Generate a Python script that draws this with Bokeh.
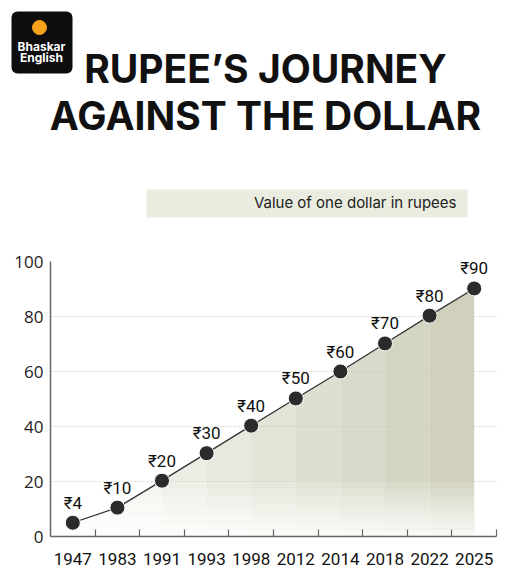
import numpy as np
from bokeh.plotting import figure
from bokeh.layouts import column
from bokeh.models import (Range1d, FixedTicker, LabelSet, ColumnDataSource,
                          BoxAnnotation)
from bokeh.embed import file_html
from bokeh.resources import INLINE
from bokeh.core.properties import value

# ---- data ----
years = ["1947", "1983", "1991", "1993", "1998", "2012", "2014", "2018", "2022", "2025"]
rupees = [5, 10.5, 20.3, 30.3, 40.3, 50.2, 60, 70.2, 80.3, 90.2]
point_labels = ["₹4", "₹10", "₹20", "₹30", "₹40", "₹50", "₹60", "₹70", "₹80", "₹90"]
y_ticks = [0, 20, 40, 60, 80, 100]
title_lines = ["RUPEE’S JOURNEY", "AGAINST THE DOLLAR"]
subtitle = "Value of one dollar in rupees"
brand = ["Bhaskar", "English"]

W, H = 500, 575
HEAD_H = 224
CHART_H = H - HEAD_H
LBL_FONT = "Roboto"

# ---- header (data units == canvas pixels) ----
head = figure(width=W, height=HEAD_H, x_range=Range1d(0, W), y_range=Range1d(HEAD_H, 0),
              output_backend="svg", toolbar_location=None, min_border=0,
              x_axis_location=None, y_axis_location=None, frame_align=False)
head.grid.visible = False
head.outline_line_color = None

head.add_layout(BoxAnnotation(left=11, right=72, top=11, bottom=73, fill_color="#0d0d0d",
                              fill_alpha=1, line_color=None, border_radius=6, level="underlay"))
head.scatter(x=[39], y=[27], size=14, fill_color="#f7a21b", line_color="#f7a21b")
head.text(x=[41, 41], y=[46, 57], text=brand, text_font=value("Inter"), text_font_style="bold",
          text_font_size="12px", text_color="white", text_align="center", text_baseline="middle")
head.text(x=[265, 265], y=[68, 115], text=title_lines, text_font=value("Inter"),
          text_font_style="bold", text_font_size="39px", text_color="#111111",
          text_align="center", text_baseline="middle")
head.add_layout(BoxAnnotation(left=146, right=467, top=189, bottom=217, fill_color="#e9ecdf",
                              fill_alpha=1, line_color=None, level="underlay"))
head.text(x=[456], y=[202], text=[subtitle], text_font=value("Inter"), text_font_size="15px",
          text_color="#222222", text_align="right", text_baseline="middle")

# ---- chart ----
n = len(years)
xs = np.arange(n) + 0.5
src = ColumnDataSource(dict(x=xs, y=rupees, label=point_labels))

p = figure(width=W, height=CHART_H, x_range=Range1d(0, n), y_range=Range1d(0, 100),
           output_backend="svg", toolbar_location=None, frame_align=False,
           min_border_left=50, min_border_right=4, min_border_top=37, min_border_bottom=39)
p.outline_line_color = None
p.xgrid.visible = False
p.ygrid.ticker = FixedTicker(ticks=y_ticks[1:])
p.ygrid.grid_line_color = "#d9d8c6"
p.ygrid.grid_line_dash = "2 2"
p.ygrid.grid_line_width = 1

xa = p.xaxis[0]
xa.ticker = FixedTicker(ticks=list(xs), minor_ticks=[i + 1 for i in range(n)])
xa.major_label_overrides = {float(x): y for x, y in zip(xs, years)}
xa.major_tick_in = 0
xa.major_tick_out = 0
xa.minor_tick_in = 7
xa.minor_tick_out = 0
xa.minor_tick_line_color = "#666666"
xa.minor_tick_line_width = 1.2
xa.axis_line_color = "#666666"
xa.axis_line_width = 1.5
xa.major_label_text_font = LBL_FONT
xa.major_label_text_font_size = "17px"
xa.major_label_text_color = "#111111"
xa.major_label_standoff = 16

ya = p.yaxis[0]
ya.ticker = FixedTicker(ticks=y_ticks, minor_ticks=[])
ya.major_tick_in = 0
ya.major_tick_out = 0
ya.minor_tick_in = 0
ya.minor_tick_out = 0
ya.axis_line_color = "#666666"
ya.axis_line_width = 1.5
ya.major_label_text_font = "Open Sans"
ya.major_label_text_font_size = "17px"
ya.major_label_text_color = "#222222"
ya.major_label_standoff = 7

# gradient-like area fill
for i in range(n - 1):
    a = 0.05 + 0.75 * (i + 1) / (n - 1)
    p.varea(x=xs[i:i + 2], y1=[0, 0], y2=rupees[i:i + 2], fill_color="#c4c4ab", fill_alpha=a)
for k in range(8):
    p.quad(left=0, right=xs[-1], bottom=2.5 * k, top=2.5 * (k + 1), fill_color="white",
           fill_alpha=0.85 - 0.1 * k, line_color=None)

p.line("x", "y", source=src, line_color="#333333", line_width=1.3)
p.scatter("x", "y", source=src, size=15, fill_color="#2b2b2b", line_color="white", line_width=1)
p.add_layout(LabelSet(x="x", y="y", text="label", source=src, y_offset=14,
                      text_align="center", text_baseline="alphabetic",
                      text_font=value(LBL_FONT), text_font_size="17px", text_color="#111111"))

layout = column(head, p, spacing=0)
open("out.html", "w").write(file_html(layout, INLINE))
